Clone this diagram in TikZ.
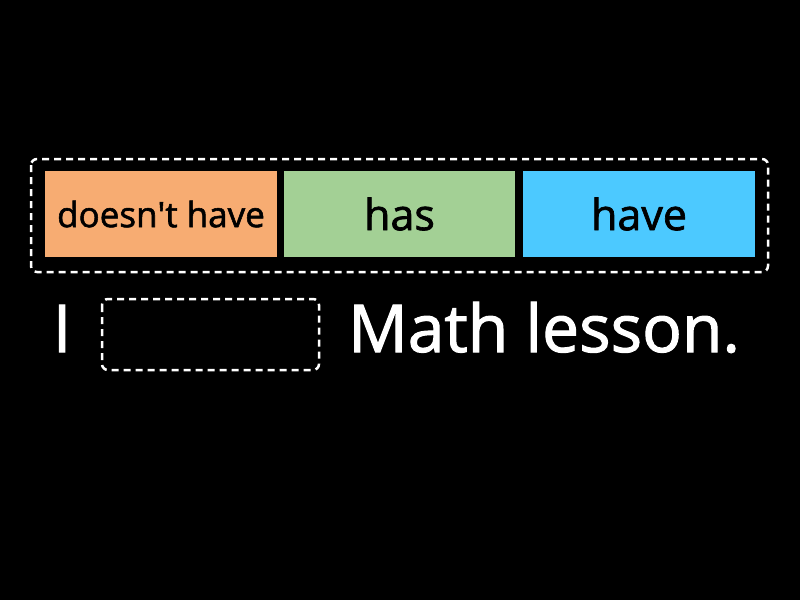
\documentclass[tikz,border=0pt]{standalone}
\usepackage{fontspec}
\setmainfont{Open Sans}
\newfontfamily\semi{Open Sans}[FakeBold=1.6]
\definecolor{corange}{HTML}{F7AC72}
\definecolor{cgreen}{HTML}{A3D095}
\definecolor{cblue}{HTML}{4CC9FF}
\begin{document}
\begin{tikzpicture}[x=1pt,y=-1pt,
  word/.style={minimum width=232pt,minimum height=86pt,inner sep=0pt,text=black},
  dbox/.style={draw=white,line width=2.5pt,dash pattern=on 7pt off 5pt,rounded corners=6pt}]
\fill[black] (0,0) rectangle (800,600);
\useasboundingbox (0,0) rectangle (800,600);
\draw[dbox] (31,159) rectangle (768,272);
\node[word,fill=corange,font=\semi\fontsize{35}{40}\selectfont] (a) at (161,214) {doesn\textquotesingle t have};
\node[word,fill=cgreen,minimum width=231pt,font=\semi\fontsize{43}{48}\selectfont] (b) at (399.5,214) {has};
\node[word,fill=cblue,font=\semi\fontsize{43}{48}\selectfont] (c) at (639,214) {have};
\node[text=white,font=\semi\fontsize{66}{72}\selectfont,anchor=base] (i) at (62,352) {I};
\draw[dbox] (102,299) rectangle (319,370);
\coordinate (blank) at (210,334);
\node[text=white,font=\semi\fontsize{66}{72}\selectfont,anchor=base west,inner sep=0pt] (m) at (348,352) {Math lesson.};
\end{tikzpicture}
\end{document}
